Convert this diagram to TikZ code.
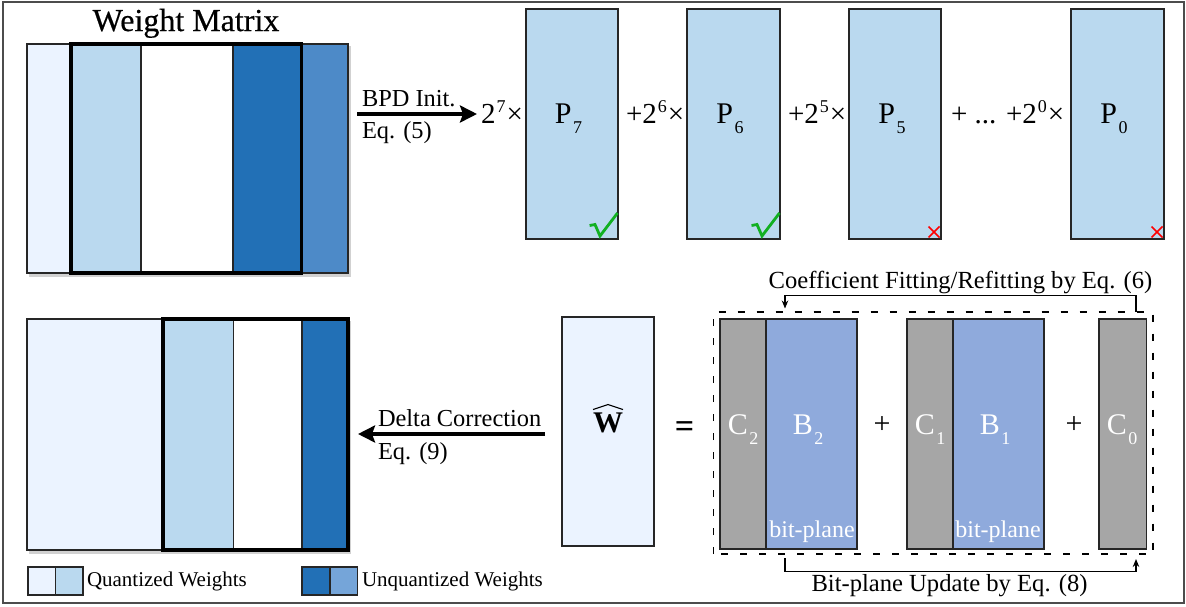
\documentclass[tikz,border=0pt]{standalone}
\usepackage{fontspec}
\setmainfont{Liberation Serif}
\usetikzlibrary{arrows.meta}
\definecolor{paleblue}{HTML}{EBF3FF}
\definecolor{lightblue}{HTML}{BAD9EF}
\definecolor{darkblue}{HTML}{2270B6}
\definecolor{midblue}{HTML}{4D8AC8}
\definecolor{legendblue}{HTML}{75A5D9}
\definecolor{bitblue}{HTML}{8FAADC}
\definecolor{coefgray}{HTML}{A6A6A6}
\definecolor{tickgreen}{HTML}{12B022}
\newcommand{\fs}[1]{\fontsize{#1}{#1}\selectfont}
\newcommand{\lowidx}[1]{\kern1.5pt\raisebox{-10pt}{\fs{18}#1}}
\newcommand{\highidx}[1]{\kern1pt\raisebox{11pt}{\fs{18}#1}\kern1pt}
% panel: name, x1, y1, x2, y2, style
\newcommand{\panel}[6]{\node[panelbox,#6,minimum width={(#4-#2)*1pt},minimum height={(#5-#3)*1pt}] (#1) at (#2,#3) {};}
\tikzset{
  panelbox/.style={draw=black!85,line width=1.6pt,anchor=north west,inner sep=0,outer sep=0},
  heavybox/.style={panelbox,draw=black,line width=3.6pt},
  shadowbox/.style={panelbox,draw=none,fill=black!18},
  label/.style={inner sep=0,outer sep=0,text=black,anchor=base},
  eqlabel/.style={label,anchor=base west,font=\fs{24.4}},
  planelabel/.style={label,font=\fs{30}},
  whitelabel/.style={planelabel,text=white},
  termlabel/.style={label,anchor=base west,font=\fs{29}},
  bitlabel/.style={label,text=white,font=\fs{24}},
  legendlabel/.style={label,anchor=base west,font=\fs{21}},
  bracketlabel/.style={label,font=\fs{24.6}},
  bigarrow/.style={line width=4.4pt,-{Stealth[length=17pt,width=17pt,inset=3pt]}},
  thinarrow/.style={line width=1.3pt,-{Stealth[length=8pt,width=6.5pt]}},
  tick/.style={draw=tickgreen,line width=2.8pt},
  cross/.style={draw=red,line width=1.6pt},
}
\begin{document}
\begin{tikzpicture}[x=1pt,y=-1pt]
\useasboundingbox (0,0) rectangle (1186,606);
\draw[draw=black!70,line width=2pt] (3,2) rectangle (1184,602.5);

% top weight matrix
\panel{wmshadow}{29}{46}{351}{277}{shadowbox}
\panel{wa}{27}{44}{71}{273}{fill=paleblue}
\panel{wb}{71}{44}{141}{273}{fill=lightblue}
\panel{wc}{141}{44}{233}{273}{fill=white}
\panel{wd}{233}{44}{301.5}{273}{fill=darkblue}
\panel{we}{301.5}{44}{348}{273}{fill=midblue}
\panel{wbox}{71}{44}{301.5}{273}{heavybox}
\node[label,font=\fs{32}\addfontfeatures{FakeBold=0.5}] (wmtitle) at (186,31) {Weight Matrix};

% BPD arrow
\coordinate (bpdstart) at (357,114);
\coordinate (bpdend) at (477,114);
\draw[bigarrow] (bpdstart) -- (bpdend);
\node[eqlabel] (bpdtext) at (362,106) {BPD Init.};
\node[eqlabel] (eqfive) at (362,138) {Eq. (5)};

% P panels
\node[termlabel] (t7) at (481,123.5) {2\highidx{7}×};
\panel{p7}{525.7}{9}{617.7}{238.7}{fill=lightblue}
\node[termlabel] (t6) at (626,123.5) {+2\highidx{6}×};
\panel{p6}{687}{9}{780}{238.7}{fill=lightblue}
\node[termlabel] (t5) at (788,123.5) {+2\highidx{5}×};
\panel{p5}{849}{9}{941}{238.7}{fill=lightblue}
\node[termlabel] (t0) at (951,123.5) {+ ... +2\highidx{0}×};
\panel{p0}{1071}{9}{1164}{238.7}{fill=lightblue}
\node[planelabel] (l7) at (568.5,123.5) {P\lowidx{7}};
\node[planelabel] (l6) at (730,123.5) {P\lowidx{6}};
\node[planelabel] (l5) at (892,123.5) {P\lowidx{5}};
\node[planelabel] (l0) at (1114,123.5) {P\lowidx{0}};
\draw[tick] (589.6,225.5) -- (595,224.5) -- (600,236) -- (617.5,213);
\draw[tick] (751.5,225.5) -- (757,224.5) -- (762,236) -- (779.5,213);
\draw[cross] (928.5,226.5) -- (939.5,237.5) (939.5,226.5) -- (928.5,237.5);
\draw[cross] (1151.5,226.5) -- (1162.5,237.5) (1162.5,226.5) -- (1151.5,237.5);

% bottom matrix
\panel{rmshadow}{29}{321}{351}{554}{shadowbox}
\panel{ra}{27}{319}{163}{550}{fill=paleblue}
\panel{rb}{163}{319}{233.5}{550}{fill=lightblue}
\panel{rc}{233.5}{319}{302}{550}{fill=white}
\panel{rd}{302}{319}{348}{550}{fill=darkblue}
\panel{rbox}{163}{319}{348}{550}{heavybox}

% delta arrow
\coordinate (deltastart) at (545,434);
\coordinate (deltaend) at (358,434);
\draw[bigarrow] (deltastart) -- (deltaend);
\node[eqlabel] (deltatext) at (378,426) {Delta Correction};
\node[eqlabel] (eqnine) at (378,459) {Eq. (9)};

% legend
\panel{q1}{28}{567}{55.5}{595}{fill=paleblue}
\panel{q2}{55.5}{567}{83}{595}{fill=lightblue}
\node[legendlabel] (qtext) at (87,586) {Quantized Weights};
\panel{u1}{302}{567}{330}{595}{fill=darkblue}
\panel{u2}{330}{567}{357.5}{595}{fill=legendblue}
\node[legendlabel] (utext) at (362,586) {Unquantized Weights};

% W-hat
\panel{what}{562}{317}{654}{546}{fill=paleblue}
\node[label,font=\fs{30}\bfseries] (wlabel) at (608,432) {W};
\draw[line width=1.1pt] (593,409.5) -- (608,404.5) -- (623,409.5);
\node[label,font=\fs{34}\bfseries] (eqsign) at (684.5,437) {=};

% decomposition
\draw[dash pattern=on 7pt off 12pt,line width=1.3pt] (713.5,554) -- (713.5,312) -- (1153,312) -- (1153,554) -- cycle;
\panel{c2}{720}{319}{765.7}{548.7}{fill=coefgray}
\panel{b2}{765.7}{319}{857}{548.7}{fill=bitblue}
\panel{c1}{907}{319}{952.7}{548.7}{fill=coefgray}
\panel{b1}{952.7}{319}{1044}{548.7}{fill=bitblue}
\panel{c0}{1099}{319}{1146.5}{548.7}{fill=coefgray}
\node[whitelabel] (lc2) at (743,434) {C\lowidx{2}};
\node[whitelabel] (lb2) at (808,434) {B\lowidx{2}};
\node[whitelabel] (lc1) at (930,434) {C\lowidx{1}};
\node[whitelabel] (lb1) at (995,434) {B\lowidx{1}};
\node[whitelabel] (lc0) at (1122,434) {C\lowidx{0}};
\node[bitlabel] (bit2) at (812,537) {bit-plane};
\node[bitlabel] (bit1) at (998,537) {bit-plane};
\node[label,font=\fs{30}] (plusa) at (882,433) {+};
\node[label,font=\fs{30}] (plusb) at (1074,433) {+};

% brackets
\coordinate (fitstart) at (1136,312);
\coordinate (fitend) at (785,308.5);
\draw[thinarrow] (fitstart) -- (1136,295.5) -- (785,295.5) -- (fitend);
\node[bracketlabel] (fittext) at (960.5,288) {Coefficient Fitting/Refitting by Eq. (6)};
\coordinate (updstart) at (785,558);
\coordinate (updend) at (1136,559);
\draw[thinarrow] (updstart) -- (785,571.5) -- (1136,571.5) -- (updend);
\node[bracketlabel] (updtext) at (949.5,591) {Bit-plane Update by Eq. (8)};
\end{tikzpicture}
\end{document}
